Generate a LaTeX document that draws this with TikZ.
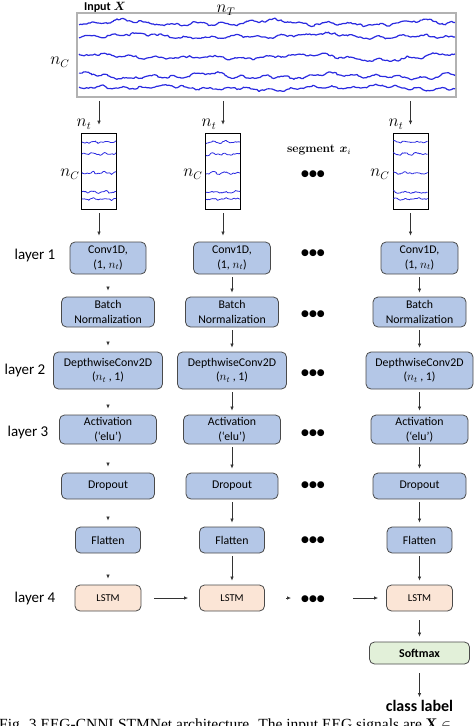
\documentclass[tikz,border=0pt]{standalone}
\usepackage{fontspec}
\usepackage{amsmath, bm}
\setsansfont{Carlito}
\newfontfamily\capfont{Liberation Serif}
\newfontfamily\dotfont{DejaVu Sans}
\usepackage{tikz}
\usetikzlibrary{arrows.meta}
\usetikzlibrary{decorations.pathmorphing}

\definecolor{eegblue}{HTML}{2A2AE0}
\definecolor{boxblue}{HTML}{B4C7E7}
\definecolor{boxpeach}{HTML}{FBE5D6}
\definecolor{boxgreen}{HTML}{E2F0D9}
\definecolor{boxline}{HTML}{4A4A4A}

\begin{document}
\begin{tikzpicture}[x=1pt, y=-1pt,
    layerbox/.style={draw=boxline, fill=boxblue, rounded corners=5pt, line width=0.8pt,
      align=center, inner sep=0pt, font=\sffamily\fontsize{11.8}{14.5}\selectfont},
    lstmbox/.style={layerbox, fill=boxpeach, font=\sffamily\fontsize{10.5}{12}\selectfont},
    outbox/.style={layerbox, fill=boxgreen, font=\sffamily\bfseries\fontsize{12}{14}\selectfont},
    arr/.style={-{Latex[length=4pt,width=3.5pt]}, draw=black!80, line width=0.7pt,
      shorten <=3pt, shorten >=4pt},
    stub/.style={arr, shorten >=6pt},
    eeg/.style={draw=eegblue, line width=1.2pt, line join=round, decorate,
      decoration={random steps, segment length=1.5pt, amplitude=0.6pt}},
    segtrace/.style={eeg, line width=0.8pt,
      decoration={random steps, segment length=1.2pt, amplitude=0.5pt}},
    dots/.style={font=\dotfont\fontsize{9}{9}\selectfont, inner sep=0pt},
    layerlab/.style={font=\sffamily\fontsize{15}{18}\selectfont},
    mathlab/.style={font=\fontsize{16}{18}\selectfont, inner sep=0pt}
  ]
  \useasboundingbox (0,0) rectangle (474,726);
  \clip (0,0) rectangle (474,726);
  \pgfmathsetseed{11}

  % input signal
  \path
  (266.5,55) node[draw=gray!60, line width=1.5pt, minimum width=379, minimum height=84] (eegX) {}
  (105,7) node[font=\sffamily\bfseries\fontsize{12}{14}\selectfont, inner sep=0pt] (inp) {Input $\bm{X}$}
  (226,10) node[mathlab] (nT) {$n_T$}
  (60,62) node[mathlab] (nC) {$n_C$};
  \draw[eeg] plot[domain=79:455, samples=120] (\x, {23+1.5*sin(2.3*\x)+1.3*sin(5*\x)+1.2*sin(14*\x+30)+1.1*rand});
  \draw[eeg] plot[domain=79:455, samples=120] (\x, {36+1.4*sin(1.9*\x+40)+1.2*sin(4*\x+60)+1.1*sin(15*\x)+1.1*rand});
  \draw[eeg] plot[domain=79:455, samples=120] (\x, {57+1.8*sin(2.1*\x+20)+1.4*sin(3*\x+20)+1.2*sin(13*\x+10)+1.2*rand});
  \draw[eeg] plot[domain=79:455, samples=120] (\x, {76+1.6*sin(2.7*\x+70)+1.3*sin(6*\x+90)+1.1*sin(16*\x)+1.1*rand});
  \draw[eeg] plot[domain=79:455, samples=120] (\x, {88+1.4*sin(1.7*\x+10)+1.2*sin(5*\x+150)+1*sin(17*\x)+1*rand});

  % segments
  \path
  (99,171) node[draw, line width=0.6pt, minimum width=35, minimum height=76] (segA) {}
  (223,171) node[draw, line width=0.6pt, minimum width=35, minimum height=76] (segB) {}
  (410.5,171) node[draw, line width=0.6pt, minimum width=35, minimum height=76] (segC) {}
  (84,124) node[mathlab] (ntA) {$n_t$}
  (209,124) node[mathlab] (ntB) {$n_t$}
  (396,124) node[mathlab] (ntC) {$n_t$}
  (70,174) node[mathlab] (ncA) {$n_C$}
  (193,174) node[mathlab] (ncB) {$n_C$}
  (380,174) node[mathlab] (ncC) {$n_C$}
  (319,150) node[font=\bfseries\fontsize{12}{14}\selectfont, inner sep=0pt] (segx) {segment $\bm{x}_i$}
  (313,174) node[dots] (d0) {●●●};
  \foreach \sx/\ex in {82/116, 206/240, 393.5/427.5}
    \foreach \sy in {142,154,173,192,199}
      \draw[segtrace] plot[domain=\sx:\ex, samples=16] (\x, {\sy+0.9*sin(30*\x)+0.9*rand});
  \draw[arr, shorten >=8pt] (segA |- eegX.south) -- (segA);
  \draw[arr, shorten >=8pt] (segB |- eegX.south) -- (segB);
  \draw[arr, shorten >=8pt] (segC |- eegX.south) -- (segC);

  % layers
  \path
  (108,258) node[layerbox, minimum width=76, minimum height=32] (convA) {Conv1D,\\(1, $n_t$)}
  (108,312) node[layerbox, minimum width=93, minimum height=30] (bnA) {Batch\\Normalization}
  (108,370.5) node[layerbox, minimum width=109, minimum height=37] (dwA) {DepthwiseConv2D\\($n_t$ , 1)}
  (108,429.5) node[layerbox, minimum width=97, minimum height=29] (actA) {Activation\\(‘elu’)}
  (108,486) node[layerbox, minimum width=93, minimum height=26] (dropA) {Dropout}
  (108,540) node[layerbox, minimum width=65, minimum height=26] (flatA) {Flatten}
  (108,598) node[lstmbox, minimum width=66, minimum height=26] (lstmA) {LSTM};
  \draw[stub, shorten <=13pt] (convA) -- (bnA);
  \draw[stub, shorten <=15pt] (bnA) -- (dwA);
  \draw[stub, shorten <=16pt] (dwA) -- (actA);
  \draw[stub, shorten <=19pt] (actA) -- (dropA);
  \draw[stub, shorten <=18pt] (dropA) -- (flatA);
  \draw[stub, shorten <=22pt] (flatA) -- (lstmA);
  \draw[arr, shorten <=4pt, shorten >=6pt] (segA) -- (segA |- convA.north);

  \path
  (232,258) node[layerbox, minimum width=77, minimum height=32] (convB) {Conv1D,\\(1, $n_t$)}
  (232,312) node[layerbox, minimum width=93, minimum height=30] (bnB) {Batch\\Normalization}
  (232,370.5) node[layerbox, minimum width=109, minimum height=37] (dwB) {DepthwiseConv2D\\($n_t$ , 1)}
  (232,429.5) node[layerbox, minimum width=97, minimum height=29] (actB) {Activation\\(‘elu’)}
  (232,486) node[layerbox, minimum width=92, minimum height=26] (dropB) {Dropout}
  (232,540) node[layerbox, minimum width=65, minimum height=26] (flatB) {Flatten}
  (232,598) node[lstmbox, minimum width=65, minimum height=26] (lstmB) {LSTM};
  \draw[arr] (convB) -- (bnB);
  \draw[arr] (bnB) -- (dwB);
  \draw[arr] (dwB) -- (actB);
  \draw[arr] (actB) -- (dropB);
  \draw[arr] (dropB) -- (flatB);
  \draw[arr] (flatB) -- (lstmB);
  \draw[arr, shorten <=4pt, shorten >=6pt] (segB) -- (segB |- convB.north);

  \path
  (419.5,258) node[layerbox, minimum width=77, minimum height=32] (convC) {Conv1D,\\(1, $n_t$)}
  (419.5,312) node[layerbox, minimum width=93, minimum height=30] (bnC) {Batch\\Normalization}
  (419.5,370.5) node[layerbox, minimum width=107, minimum height=37] (dwC) {DepthwiseConv2D\\($n_t$ , 1)}
  (419.5,429.5) node[layerbox, minimum width=97, minimum height=29] (actC) {Activation\\(‘elu’)}
  (419.5,486) node[layerbox, minimum width=93, minimum height=26] (dropC) {Dropout}
  (419.5,540) node[layerbox, minimum width=65, minimum height=26] (flatC) {Flatten}
  (419.5,598) node[lstmbox, minimum width=66, minimum height=26] (lstmC) {LSTM}
  (419.5,653) node[outbox, minimum width=100, minimum height=22] (smax) {Softmax}
  (419.5,706) node[font=\sffamily\bfseries\fontsize{16}{18}\selectfont, inner sep=1pt] (cls) {class label};
  \draw[arr] (convC) -- (bnC);
  \draw[arr] (bnC) -- (dwC);
  \draw[arr] (dwC) -- (actC);
  \draw[arr] (actC) -- (dropC);
  \draw[arr] (dropC) -- (flatC);
  \draw[arr] (flatC) -- (lstmC);
  \draw[arr, shorten <=9pt, shorten >=5pt] (lstmC) -- (smax);
  \draw[arr, shorten <=9pt, shorten >=2pt] (smax) -- (cls);
  \draw[arr, shorten <=4pt, shorten >=6pt] (segC) -- (segC |- convC.north);

  % layer labels and dots
  \path
  (35,255) node[layerlab] (l1) {layer 1}
  (25,370) node[layerlab] (l2) {layer 2}
  (28,432) node[layerlab] (l3) {layer 3}
  (35,598) node[layerlab] (l4) {layer 4}
  (313,253) node[dots] (d1) {●●●}
  (313,314) node[dots] (d2) {●●●}
  (313,373) node[dots] (d3) {●●●}
  (313,433) node[dots] (d4) {●●●}
  (313,485) node[dots] (d5) {●●●}
  (313,540) node[dots] (d6) {●●●}
  (313,599) node[dots] (d7) {●●●};
  \draw[arr, shorten <=13pt, shorten >=11pt] (lstmA) -- (lstmB);
  \draw[arr, shorten <=21pt, shorten >=10pt] (lstmB) -- (lstmB -| d7.west);
  \draw[arr, shorten <=28pt, shorten >=8pt] (d7.east |- lstmC) -- (lstmC);

  % caption, cut by the page edge
  \path (-1,729.5) node[anchor=base west, inner sep=0pt, font=\capfont\fontsize{15.5}{18}\selectfont] (cap)
    {Fig. 3 EEG-CNNLSTMNet architecture. The input EEG signals are $\mathbf{X}\in$};
\end{tikzpicture}
\end{document}
